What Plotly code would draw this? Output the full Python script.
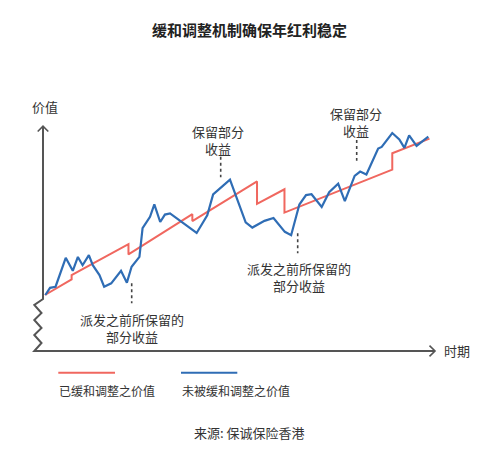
import plotly.graph_objects as go

# ---- data (time index 0-100, value index 0-100) ----
blue_t = [0.6, 1.8, 3.2, 5.8, 7.6, 8.9, 10.1, 11.7, 12.7, 14.4, 15.6, 17.4, 19.9, 21.4, 22.6,
          24.6, 25.4, 27.3, 28.4, 29.9, 31.1, 32.4, 39.2, 41.9, 43.4, 47.7, 51.7, 53.4, 56.5,
          58.8, 61.7, 63.3, 65.4, 67.1, 68.5, 71.1, 73.0, 75.3, 77.0, 79.5, 80.9, 82.5, 85.5,
          86.4, 89.1, 90.9, 92.2, 93.4, 95.3, 98.3]
blue_v = [25.0, 28.2, 28.7, 41.6, 35.8, 42.0, 38.3, 42.8, 38.3, 33.9, 28.7, 30.2, 35.8, 30.5, 37.6,
          42.0, 54.8, 59.9, 65.5, 57.6, 60.9, 61.4, 52.7, 60.6, 69.9, 76.5, 57.4, 55.1, 58.1,
          59.4, 53.2, 51.7, 65.4, 69.6, 70.0, 64.3, 70.9, 74.7, 66.9, 78.2, 80.1, 78.8, 90.4,
          91.1, 97.3, 94.4, 90.7, 96.3, 91.6, 95.7]

red_t = [0.5, 7.3, 7.3, 21.8, 21.8, 38.1, 38.1, 54.6, 54.6, 61.6, 61.6, 89.1, 89.1, 98.6]
red_v = [25.0, 32.0, 33.9, 47.7, 43.1, 61.1, 58.0, 75.7, 65.7, 72.2, 61.8, 81.0, 88.3, 94.8]

title = "缓和调整机制确保年红利稳定"
y_label = "价值"
x_label = "时期"
series_names = ["已缓和调整之价值", "未被缓和调整之价值"]
note_kept = "保留部分<br>收益"
note_paid = "派发之前所保留的<br>部分收益"
source = "来源: 保诚保险香港"

RED = "#f0675f"
BLUE = "#2f6db5"
AXIS = "#555555"
TXT = "#333333"
FONT = "Noto Sans CJK SC"

# page offset (body margin) compensation
OFF = 8
# plot area in target pixels
L, R, T, B = 43, 435, 127, 351


def px(x):
    return (x - L) / (R - L)


def py(y):
    return (B - y) / (B - T)


fig = go.Figure()
fig.add_trace(go.Scatter(x=red_t, y=red_v, mode="lines", line=dict(color=RED, width=2),
                         name=series_names[0], showlegend=False))
fig.add_trace(go.Scatter(x=blue_t, y=blue_v, mode="lines", line=dict(color=BLUE, width=2.2),
                         name=series_names[1], showlegend=False))

shapes = []


def path(points, color=AXIS, width=2, dash=None):
    d = "M " + " L ".join(f"{px(a):.5f},{py(b):.5f}" for a, b in points)
    line = dict(color=color, width=width)
    if dash:
        line["dash"] = dash
    shapes.append(dict(type="path", xref="paper", yref="paper", path=d, line=line,
                       layer="above"))


# axes with zigzag break
path([(43, 126.7), (43, 299), (34.3, 305), (41.5, 313), (34.3, 320), (41.5, 328),
      (34.3, 335), (41.5, 343), (34.3, 351), (435, 351)], width=2)
# arrow heads
path([(37.7, 131.5), (43, 126.2), (48.3, 131.5)], width=1.6)
path([(429.5, 345.7), (435, 351), (429.5, 356.3)], width=1.6)

# dotted leader lines
for x, y0, y1 in [(131.7, 283.3, 303.3), (220.7, 156.7, 177.3),
                  (356.7, 140, 160.7), (297.7, 233.3, 253.3)]:
    path([(x, y0), (x, y1)], color="#444444", width=1.6, dash="dot")

# legend lines
path([(58.3, 372.7), (115, 372.7)], color=RED, width=2)
path([(181, 372.7), (237.3, 372.7)], color=BLUE, width=2)

annotations = []


def text(t, x, y, size=13, anchor="center", color=TXT):
    annotations.append(dict(text=t, x=px(x), y=py(y), xref="paper", yref="paper",
                            showarrow=False, xanchor=anchor, yanchor="middle",
                            borderpad=0,
                            font=dict(family=FONT, size=size, color=color)))


text(f"<b>{title}</b>", 250, 29.3, size=15, color="#222222")
text(y_label, 45, 106, size=13)
text(x_label, 443, 350, size=13, anchor="left")

text(note_paid, 132, 327.5)
text(note_kept, 218, 140)
text(note_kept, 356, 122)
text(note_paid, 298.5, 277)

text(series_names[0], 57.5, 390.7, size=12, anchor="left")
text(series_names[1], 180.5, 390.7, size=12, anchor="left")
text(source, 250, 432, size=13)

fig.update_layout(
    width=500, height=450,
    margin=dict(l=L - OFF, r=500 - (R - OFF), t=T - OFF, b=450 - (B - OFF), pad=0),
    paper_bgcolor="white", plot_bgcolor="white",
    xaxis=dict(range=[0, 100], visible=False, fixedrange=True),
    yaxis=dict(range=[0, 100], visible=False, fixedrange=True),
    shapes=shapes, annotations=annotations, showlegend=False,
    font=dict(family=FONT, color=TXT),
)

fig.write_html("out.html")
